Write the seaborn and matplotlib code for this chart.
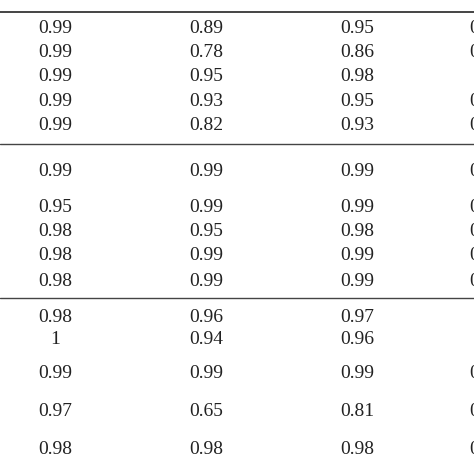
import matplotlib
matplotlib.use("Agg")
import matplotlib.pyplot as plt
import seaborn as sns

sns.set_style("white")
plt.rcParams['font.family'] = ['Liberation Serif', 'DejaVu Serif']

col1 = ["0.99", "0.99", "0.99", "0.99", "0.99", "0.99", "0.95", "0.98", "0.98", "0.98", "0.98", "1", "0.99", "0.97", "0.98"]
col2 = ["0.89", "0.78", "0.95", "0.93", "0.82", "0.99", "0.99", "0.95", "0.99", "0.99", "0.96", "0.94", "0.99", "0.65", "0.98"]
col3 = ["0.95", "0.86", "0.98", "0.95", "0.93", "0.99", "0.99", "0.98", "0.99", "0.99", "0.97", "0.96", "0.99", "0.81", "0.98"]
col4 = ["0", "0", "", "0", "0", "0", "0", "0", "0", "0", "", "", "0", "0", "0"]
row_y = [28, 52, 76, 101, 125, 172, 207, 231, 256, 281, 318, 340, 374, 412, 449]
col_x = [55, 206, 357, 474]
rules = [(12, 1.4), (144, 1.0), (298, 1.0)]

fig = plt.figure(figsize=(4.74, 4.74), dpi=100)
ax = fig.add_axes([0, 0, 1, 1])
ax.set_xlim(0, 474)
ax.set_ylim(474, 0)
ax.axis("off")
for x, col in zip(col_x, [col1, col2, col3, col4]):
    for y, v in zip(row_y, col):
        ax.text(x, y, v, ha="center", va="center", fontsize=14, color="#222222", clip_on=True)
for y, lw in rules:
    ax.axhline(y, color="#444444", lw=lw)
fig.savefig("out.png", dpi=100)
